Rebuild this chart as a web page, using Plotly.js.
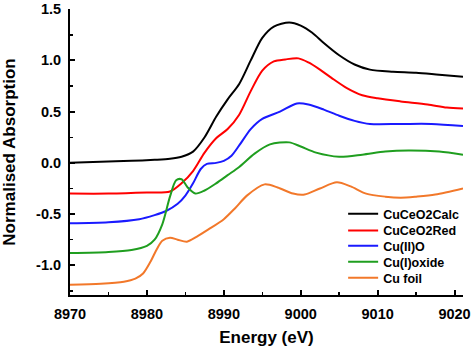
<!DOCTYPE html>
<html>
<head>
<meta charset="utf-8">
<script src="https://cdn.plot.ly/plotly-3.0.1.min.js"></script>
<style>
  html, body { margin: 0; padding: 0; background: #fff; }
  #chart { width: 474px; height: 347px; }
</style>
</head>
<body>
<div id="chart"></div>
<script>
// Cu K-edge XANES spectra (normalised, vertically offset)
const seriesNames = ["CuCeO2Calc", "CuCeO2Red", "Cu(II)O", "Cu(I)oxide", "Cu foil"];
const seriesColors = ["#000000", "#ff0000", "#1a1aff", "#1f9e1f", "#f2782a"];

const energyCalc = [8970, 8974, 8978, 8981, 8983, 8984.5, 8986, 8987.5, 8989, 8990.5, 8992, 8993.5, 8995, 8996.5, 8998.5, 9000, 9001.5, 9003, 9005, 9007, 9009, 9012, 9015, 9018, 9021.1];
const absCalc    = [0.00, 0.01, 0.02, 0.03, 0.04, 0.06, 0.11, 0.25, 0.45, 0.62, 0.77, 1.00, 1.22, 1.33, 1.37, 1.34, 1.27, 1.17, 1.05, 0.96, 0.91, 0.89, 0.88, 0.86, 0.84];

const energyRed = [8970, 8975, 8980, 8983, 8984.5, 8986, 8987.5, 8989, 8990.5, 8992, 8993.5, 8995, 8996.5, 8998, 8999.7, 9001, 9002.5, 9004, 9006, 9008, 9010, 9013, 9016.5, 9019, 9021.1];
const absRed    = [-0.30, -0.30, -0.29, -0.28, -0.20, -0.08, 0.10, 0.24, 0.33, 0.47, 0.70, 0.90, 0.99, 1.01, 1.02, 0.98, 0.91, 0.83, 0.73, 0.66, 0.63, 0.60, 0.57, 0.54, 0.53];

const energyCuO = [8970, 8975, 8979, 8981, 8982.5, 8984, 8985, 8986, 8987, 8987.8, 8989, 8990, 8991, 8992, 8993.5, 8995, 8997.3, 8999.5, 9001, 9003, 9005, 9007, 9009, 9013, 9017, 9021.1];
const absCuO    = [-0.59, -0.58, -0.55, -0.51, -0.47, -0.40, -0.32, -0.20, -0.06, -0.01, 0.00, 0.02, 0.07, 0.17, 0.33, 0.43, 0.50, 0.58, 0.57, 0.52, 0.46, 0.41, 0.38, 0.38, 0.38, 0.36];

const energyCu2O = [8970, 8975, 8978, 8980, 8981, 8982, 8983, 8983.8, 8984.5, 8985.3, 8986.3, 8987.5, 8989, 8990.5, 8992, 8994, 8996, 8998.5, 9000, 9002, 9005, 9008, 9011, 9014, 9018, 9021.1];
const absCu2O    = [-0.88, -0.87, -0.85, -0.81, -0.75, -0.60, -0.33, -0.17, -0.16, -0.24, -0.30, -0.27, -0.20, -0.12, -0.04, 0.09, 0.18, 0.20, 0.16, 0.10, 0.06, 0.08, 0.11, 0.12, 0.11, 0.08];

const energyFoil = [8970, 8974, 8977, 8978.5, 8979.5, 8980.5, 8981.3, 8982, 8983, 8984, 8985.2, 8986.5, 8988, 8990, 8991.5, 8993, 8995.3, 8997, 8999, 9000.5, 9002.5, 9004.7, 9006.5, 9008.5, 9011, 9013, 9015, 9017.5, 9021.1];
const absFoil    = [-1.19, -1.18, -1.16, -1.13, -1.08, -0.96, -0.84, -0.76, -0.73, -0.75, -0.77, -0.72, -0.65, -0.55, -0.44, -0.32, -0.21, -0.24, -0.30, -0.31, -0.25, -0.19, -0.23, -0.30, -0.33, -0.34, -0.33, -0.31, -0.25];

const xTickVals = [8970, 8980, 8990, 9000, 9010, 9020];
const xTickText = ["8970", "8980", "8990", "9000", "9010", "9020"];
const yTickVals = [-1.0, -0.5, 0.0, 0.5, 1.0, 1.5];
const yTickText = ["-1.0", "-0.5", "0.0", "0.5", "1.0", "1.5"];

const energies = [energyCalc, energyRed, energyCuO, energyCu2O, energyFoil];
const absorptions = [absCalc, absRed, absCuO, absCu2O, absFoil];

// one compact legend box per series so the rows can sit closely stacked
const legendKeys = ["legend", "legend2", "legend3", "legend4", "legend5"];
const legendRowY = [0.283, 0.224, 0.171, 0.115, 0.059];

const traces = seriesNames.map((name, i) => ({
  x: energies[i],
  y: absorptions[i],
  name: name,
  type: "scatter",
  mode: "lines",
  legend: legendKeys[i],
  line: { color: seriesColors[i], width: 2, shape: "spline", smoothing: 0.8 }
}));

const fontFamily = "Liberation Sans, Arial, sans-serif";
const tickFont = { family: fontFamily, size: 14.5, color: "#000", weight: "bold" };

const layout = {
  width: 474,
  height: 347,
  margin: { l: 70, r: 11, t: 9, b: 52 },
  paper_bgcolor: "#fff",
  plot_bgcolor: "#fff",
  showlegend: true,
  xaxis: {
    range: [8970, 9021.1],
    tickvals: xTickVals,
    ticktext: xTickText,
    ticks: "inside", ticklen: 5, tickwidth: 2, tickcolor: "#000",
    ticklabelstandoff: 5,
    minor: { dtick: 5, tick0: 8970, ticks: "inside", ticklen: 3, tickwidth: 1.5, tickcolor: "#000" },
    showline: true, linecolor: "#000", linewidth: 2,
    showgrid: false, zeroline: false,
    tickfont: tickFont,
    title: { text: "Energy (eV)", font: { family: fontFamily, size: 17, color: "#000", weight: "bold" }, standoff: 12 }
  },
  yaxis: {
    range: [-1.29, 1.502],
    tickvals: yTickVals,
    ticktext: yTickText,
    ticks: "inside", ticklen: 5, tickwidth: 2, tickcolor: "#000",
    ticklabelstandoff: 4,
    minor: { dtick: 0.25, tick0: 0, ticks: "inside", ticklen: 3, tickwidth: 1.5, tickcolor: "#000" },
    showline: true, linecolor: "#000", linewidth: 2,
    showgrid: false, zeroline: false,
    tickfont: tickFont,
    title: { text: "Normalised Absorption", font: { family: fontFamily, size: 17, color: "#000", weight: "bold" }, standoff: 16 }
  }
};

legendKeys.forEach((key, i) => {
  layout[key] = {
    x: 0.695, y: legendRowY[i], xanchor: "left", yanchor: "middle",
    bgcolor: "rgba(0,0,0,0)", borderwidth: 0,
    font: { family: fontFamily, size: 12.5, color: "#000", weight: "bold" }
  };
});

Plotly.newPlot("chart", traces, layout, { displayModeBar: false, staticPlot: true });
</script>
</body>
</html>
